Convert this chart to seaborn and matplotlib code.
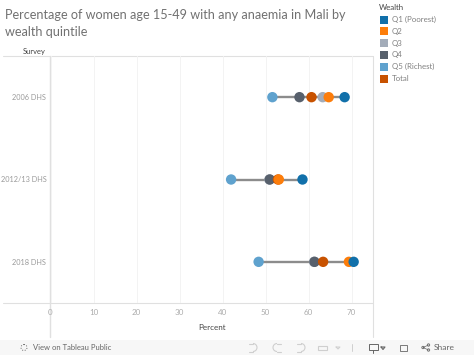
#!/usr/bin/env python3
import pandas as pd
import matplotlib.pyplot as plt
from matplotlib.patches import Rectangle, Circle, Arc
import seaborn as sns

W, H = 474, 355

surveys = ['2006 DHS', '2012/13 DHS', '2018 DHS']
wealth = ['Q1 (Poorest)', 'Q2', 'Q3', 'Q4', 'Q5 (Richest)', 'Total']
colors = ['#1170aa', '#fc7d0b', '#a3acb9', '#57606c', '#5fa2ce', '#c85200']

q1 = [68.4, 58.6, 70.5]
q2 = [64.7, 53.1, 69.4]
q3 = [63.3, 50.9, 61.3]
q4 = [57.9, 51.0, 61.4]
q5 = [51.6, 42.0, 48.4]
total = [60.7, 52.9, 63.4]
x_ticks = [0, 10, 20, 30, 40, 50, 60, 70]

# draw order decides which dot ends up on top
draw_order = [('Q3', q3), ('Q4', q4), ('Total', total), ('Q5 (Richest)', q5),
              ('Q2', q2), ('Q1 (Poorest)', q1)]
df = pd.DataFrame([
    {'Survey': s, 'Wealth': name, 'Percent': vals[i]}
    for name, vals in draw_order for i, s in enumerate(surveys)
])

sns.set_theme(style="white")
plt.rcParams['font.family'] = ['Lato', 'DejaVu Sans']

fig = plt.figure(figsize=(W / 100, H / 100), dpi=100)
ax = fig.add_axes([50.5 / W, 1 - 303 / H, (373 - 50.5) / W, (303 - 56) / H])
ax.patch.set_alpha(0)

# range line behind the dots
sns.lineplot(data=df, x='Percent', y='Survey', units='Survey', estimator=None,
             orient='y', sort=True, color='#8c8c8c', linewidth=1.7, ax=ax, zorder=2)
sns.scatterplot(data=df, x='Percent', y='Survey', hue='Wealth', hue_order=wealth,
                palette=colors, s=56, linewidth=0, alpha=1, legend=False, ax=ax, zorder=3)

ax.set_xlim(0, 75)
ax.set_ylim(2.5, -0.5)
ax.set_xticks(x_ticks)
ax.grid(axis='x', color='#f3f3f3', linewidth=0.7)
ax.set_axisbelow(True)
for side in ax.spines:
    ax.spines[side].set_visible(False)
ax.tick_params(axis='x', length=0, labelsize=5.8, labelcolor='#acacac', pad=4.5)
ax.tick_params(axis='y', length=0, labelsize=5.3, labelcolor='#9a9a9a', pad=3)
ax.set_xlabel('Percent', fontsize=5.8, color='#444444', labelpad=5.5)
ax.set_ylabel('')


# chrome in pixel coordinates, y measured from the top
over = fig.add_axes([0, 0, 1, 1], zorder=-1)
top = fig.add_axes([0, 0, 1, 1], zorder=5)
for a in (over, top):
    a.set_xlim(0, W)
    a.set_ylim(H, 0)
    a.axis('off')
    a.patch.set_alpha(0)

rule = '#e0e0e0'
over.plot([3, 373], [56, 56], color=rule, lw=0.8)
over.plot([3, 373], [303, 303], color=rule, lw=0.8)
over.plot([50, 50], [56, 337], color=rule, lw=1.0)
over.plot([373, 373], [56, 337], color=rule, lw=0.8)
over.add_patch(Rectangle((0, 340), W, 15, color='#f7f7f7', lw=0))

title_color = '#717171'
top.text(5, 15, 'Percentage of women age 15-49 with any anaemia in Mali by',
         fontsize=9.05, color=title_color, va='center')
top.text(5, 32, 'wealth quintile', fontsize=9.05, color=title_color, va='center')
top.text(46, 51.5, 'Survey', fontsize=5.4, color='#444444', ha='right', va='center')

# legend
top.text(379, 7.5, 'Wealth', fontsize=5.7, color='#444444', va='center')
for i, (name, c) in enumerate(zip(wealth, colors)):
    y = 19.5 + i * 11.8
    top.add_patch(Rectangle((380.5, y - 4), 8, 8, color=c, lw=0))
    top.text(392, y, name, fontsize=5.7, color='#808080', va='center')

# toolbar
ink = '#666666'
faint = '#cfcfcf'
top.add_patch(Circle((24, 347.5), 3, fill=False, ec=ink, lw=0.7, ls=':'))
top.text(33, 347.5, 'View on Tableau Public', fontsize=5.5, color=ink, va='center')
top.text(434, 347.5, 'Share', fontsize=6.0, color=ink, va='center')
top.add_patch(Arc((253, 347.5), 8, 8, theta1=-90, theta2=90, ec=faint, lw=0.8))
top.plot([249, 253], [343.5, 343.5], color=faint, lw=0.8)
top.plot([249, 253], [351.5, 351.5], color=faint, lw=0.8)
top.add_patch(Arc((277, 347.5), 8, 8, theta1=90, theta2=270, ec=faint, lw=0.8))
top.plot([277, 281], [343.5, 343.5], color=faint, lw=0.8)
top.plot([277, 281], [351.5, 351.5], color=faint, lw=0.8)
top.add_patch(Arc((301, 347.5), 8, 8, theta1=-90, theta2=90, ec=faint, lw=0.8))
top.plot([297, 301], [343.5, 343.5], color=faint, lw=0.8)
top.plot([297, 301], [351.5, 351.5], color=faint, lw=0.8)
top.add_patch(Rectangle((318, 345.5), 9, 4, fill=False, ec=faint, lw=0.8))
top.plot([336, 340, 338, 336], [347, 347, 349, 347], color=faint, lw=0.7)
top.plot([352, 352], [344, 351], color=faint, lw=0.7)
top.add_patch(Rectangle((369, 343.5), 9, 6, fill=False, ec=ink, lw=0.7))
top.plot([373.5, 373.5], [349.5, 352.5], color=ink, lw=0.7)
top.plot([381, 385, 383, 381], [347, 347, 349.5, 347], color=ink, lw=0.8)
top.add_patch(Rectangle((400, 344.5), 7, 6, fill=False, ec=ink, lw=0.6))
for cx, cy in [(423, 347.5), (428.5, 345), (428.5, 350)]:
    top.add_patch(Circle((cx, cy), 1.2, fill=False, ec=ink, lw=0.6))
top.plot([428.5, 423, 428.5], [345, 347.5, 350], color=ink, lw=0.5)

fig.savefig('out.png', dpi=100)
